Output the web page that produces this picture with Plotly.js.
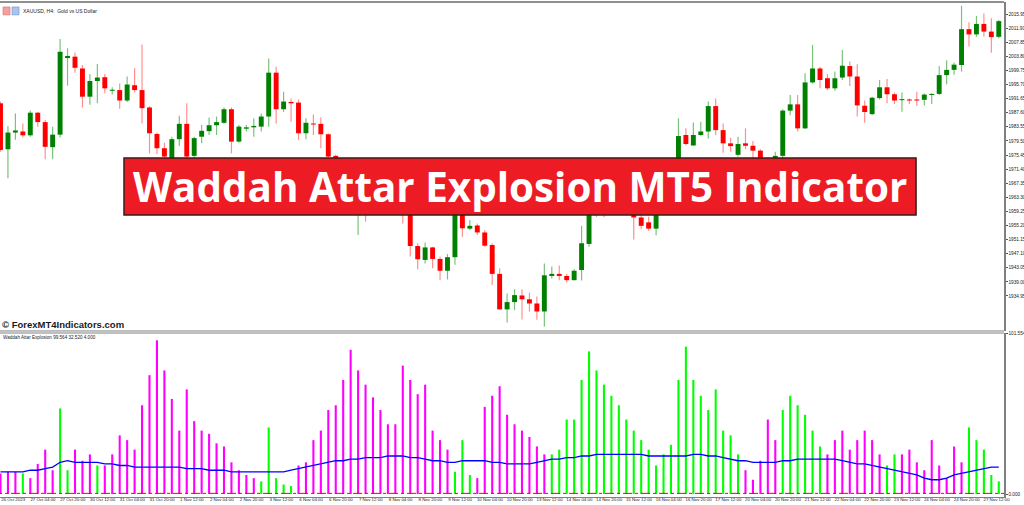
<!DOCTYPE html>
<html>
<head>
<meta charset="utf-8">
<script src="https://cdn.plot.ly/plotly-3.0.1.min.js"></script>
<style>html,body{margin:0;padding:0;background:#fff;}#chart{width:1024px;height:505px;}</style>
</head>
<body>
<div id="chart"></div>
<script>
// ---- Price data (XAUUSD H4) ----
const opens = [1990.3,1977.1,1981.9,1982.2,1981.1,1987.6,1984.9,1977.7,1981.3,2003.3,2003.7,2000.3,1992.2,1996.7,1997.8,1993.9,1994.1,1991.1,1995.5,1994.1,1989.1,1981.5,1977.4,1973.3,1980.0,1984.4,1975.2,1980.7,1982.3,1984.0,1984.7,1988.6,1979.3,1983.0,1983.4,1983.6,1986.5,1999.1,1988.6,1990.7,1990.5,1981.7,1984.5,1984.4,1981.4,1975.2,1971.5,1966.0,1961.5,1964.5,1961.0,1965.5,1968.5,1966.0,1962.5,1960.0,1949.3,1945.3,1948.9,1945.6,1942.2,1946.1,1966.0,1954.3,1955.2,1953.2,1949.6,1941.3,1931.1,1933.2,1935.1,1934.0,1932.8,1930.5,1940.7,1941.3,1940.7,1939.5,1942.4,1949.9,1960.0,1962.5,1960.5,1964.5,1967.0,1962.0,1957.5,1956.1,1954.3,1962.0,1968.0,1972.5,1981.2,1978.2,1981.2,1982.2,1989.5,1982.6,1978.8,1975.5,1978.8,1978.1,1976.7,1972.5,1970.0,1975.2,1988.2,1990.0,1983.1,1996.3,2000.3,1997.5,1994.6,1997.7,2001.0,1998.0,1989.6,1987.2,1991.8,1994.9,1992.9,1991.2,1991.3,1991.4,1991.3,1992.7,1993.0,1998.4,1999.9,2001.3,2011.6,2010.1,2013.1,2010.9,2009.4];
const highs = [1990.8,1983.8,1987.4,1984.5,1988.2,1987.8,1985.5,1983.6,2008.8,2006.1,2004.9,2001.3,1998.7,2001.6,1998.7,1994.9,1996.0,1998.0,2000.4,2007.2,1989.5,1981.9,1979.0,1980.7,1986.7,1990.3,1980.7,1984.1,1986.2,1986.5,1989.1,1989.1,1984.1,1984.1,1986.0,1987.4,2003.2,2000.8,1993.6,1991.7,1991.4,1986.0,1987.1,1986.3,1981.7,1975.5,1972.5,1967.0,1966.0,1966.5,1967.0,1970.0,1970.0,1967.5,1964.0,1961.0,1950.1,1950.3,1949.1,1946.3,1947.0,1967.5,1968.0,1956.8,1955.8,1953.9,1950.1,1942.9,1935.7,1936.9,1936.9,1935.9,1934.8,1944.3,1943.4,1943.7,1941.3,1942.6,1955.1,1961.5,1964.0,1964.0,1966.0,1969.0,1968.0,1963.0,1958.2,1957.7,1963.5,1969.5,1974.0,1986.0,1983.1,1984.8,1985.0,1990.8,1991.7,1984.5,1980.4,1980.7,1983.1,1979.5,1977.1,1973.5,1976.4,1988.6,1992.7,1992.7,1998.9,2007.1,2000.8,1998.7,1999.4,2005.6,2002.3,2001.5,1991.1,1992.2,1997.0,1997.3,1993.4,1993.4,1991.7,1993.6,1993.1,1993.2,2001.0,2002.7,2002.0,2018.3,2013.6,2015.4,2016.1,2014.7,2014.2];
const lows = [1976.4,1968.8,1979.8,1980.5,1980.7,1983.6,1974.2,1974.2,1980.5,1995.4,1999.1,1989.1,1989.9,1990.3,1993.2,1992.8,1988.7,1990.7,1993.4,1984.5,1975.9,1975.7,1973.5,1972.6,1978.0,1974.0,1973.5,1978.8,1981.2,1981.2,1984.4,1975.9,1979.0,1982.2,1980.7,1982.2,1983.6,1984.5,1987.9,1985.0,1979.8,1980.0,1981.2,1977.4,1973.5,1970.0,1964.5,1959.0,1952.5,1956.3,1960.0,1964.5,1964.0,1961.5,1955.8,1946.3,1942.6,1944.3,1942.9,1939.5,1939.7,1943.9,1952.0,1953.9,1952.5,1949.1,1938.1,1931.1,1927.3,1930.9,1928.2,1930.5,1928.1,1926.1,1940.0,1939.5,1938.8,1939.4,1939.4,1949.1,1957.7,1957.6,1959.5,1963.5,1960.5,1951.2,1954.1,1953.7,1952.4,1961.0,1966.5,1971.5,1978.2,1978.0,1981.0,1980.2,1981.2,1976.1,1976.4,1975.0,1977.1,1974.5,1971.0,1968.5,1969.0,1974.4,1986.9,1982.2,1982.9,1996.0,1994.6,1994.1,1993.9,1997.0,1995.3,1986.5,1984.7,1986.9,1991.4,1990.3,1990.1,1987.9,1990.1,1989.5,1989.7,1990.1,1992.7,1995.8,1998.5,1999.4,2006.6,2009.4,2009.4,2004.8,2009.0];
const closes = [1976.9,1981.9,1982.5,1981.1,1987.6,1984.9,1977.8,1981.3,2005.1,2003.9,2000.5,1992.2,1996.7,1997.7,1994.6,1994.2,1991.1,1995.7,1994.1,1988.9,1981.7,1977.4,1975.0,1980.0,1984.4,1975.0,1980.3,1982.4,1984.0,1984.9,1988.6,1979.3,1983.6,1983.4,1983.8,1986.5,1999.1,1988.6,1990.8,1990.3,1981.7,1984.7,1984.2,1981.4,1975.0,1971.5,1966.0,1961.5,1964.5,1961.0,1965.5,1968.5,1966.0,1962.5,1960.0,1949.3,1945.5,1948.9,1945.6,1942.2,1946.1,1966.0,1954.4,1955.1,1953.2,1949.4,1941.3,1931.1,1933.2,1935.2,1934.0,1932.8,1930.5,1940.9,1941.3,1940.7,1939.5,1942.2,1950.1,1960.0,1962.5,1960.5,1964.5,1967.0,1962.0,1957.5,1955.1,1954.3,1962.0,1968.0,1972.5,1980.9,1978.6,1981.2,1982.2,1989.5,1982.6,1978.8,1978.0,1978.6,1978.1,1976.7,1972.5,1970.0,1975.2,1988.2,1990.0,1983.1,1996.3,2000.3,1997.0,1994.6,1997.5,2001.1,1998.0,1989.7,1987.8,1991.9,1994.9,1992.9,1991.1,1991.3,1991.1,1991.1,1992.8,1993.0,1998.4,1999.9,2001.4,2011.6,2010.1,2013.1,2010.9,2009.3,2013.9];

// ---- Waddah Attar Explosion: + = green (up trend), - = magenta (down trend) ----
const trendBars = [-13,-14,-14,13,-10,-19,-28,-15,54,15,-28,-21,-25,18,-18,-25,-37,-34,-28,-56,-75,-97,-78,-60,-40,-66,-46,-40,-38,-32,-30,-20,-15,-12,-10,8,42,10,6,5,-18,-20,-34,-40,-53,-56,-72,-91,-78,-69,-61,-53,-44,-44,-81,-72,-63,-69,-40,-34,-28,14,34,12,-10,-55,-62,-68,-50,-44,-40,-36,-30,-25,25,28,47,47,72,90,78,69,62,56,47,40,34,28,18,25,31,72,93,72,62,53,66,40,37,25,-15,-9,-21,-47,-34,53,62,56,50,40,30,-25,-34,-40,-28,-34,-40,-34,-25,18,25,-25,-28,-20,-15,-34,-18,-10,-30,-20,42,34,28,12,8,18];
const explosionLine = [14,14,14,14,15,15,16,17,20,21,20,20,20,20,19,19,18,18,17,17,17,17,17,17,17,16,16,16,15,15,15,14,14,14,14,14,14,14,14,15,16,17,18,19,20,21,21,22,22,23,23,23,24,24,24,23,23,22,21,21,20,20,21,21,21,21,20,20,19,19,19,19,20,21,22,22,23,23,24,24,25,25,25,25,25,25,25,24,24,24,24,24,24,25,25,24,24,23,22,21,21,20,20,20,20,21,21,22,22,22,22,22,22,21,20,19,19,18,17,16,15,14,13,12,10,9,9,10,12,13,14,15,16,17,17,18];
const deadZone = 0.4;

// ---- Axis labels ----
const timeLabels = ["26 Oct 2023","27 Oct 04:00","27 Oct 20:00","30 Oct 12:00","31 Oct 04:00","31 Oct 20:00","1 Nov 12:00","2 Nov 04:00","2 Nov 20:00","3 Nov 12:00","6 Nov 04:00","6 Nov 20:00","7 Nov 12:00","8 Nov 04:00","8 Nov 20:00","9 Nov 12:00","10 Nov 04:00","10 Nov 20:00","13 Nov 12:00","14 Nov 04:00","14 Nov 20:00","15 Nov 12:00","16 Nov 04:00","16 Nov 20:00","17 Nov 12:00","20 Nov 04:00","20 Nov 20:00","21 Nov 12:00","22 Nov 04:00","22 Nov 20:00","23 Nov 12:00","24 Nov 04:00","24 Nov 20:00","27 Nov 12:00"];
const labelStep = 4;
const priceTicks = [2015.95,2011.90,2007.85,2003.80,1999.75,1995.70,1991.65,1987.60,1983.55,1979.50,1975.45,1971.40,1967.35,1963.30,1959.25,1955.20,1951.15,1947.10,1943.05,1939.00,1934.95];
const indTicks = [101.554, 0];

const idx = opens.map((_, i) => i);
const isUp = opens.map((o, i) => closes[i] >= o);
const bodyBase = opens.map((o, i) => Math.min(o, closes[i]));
const bodyLen = opens.map((o, i) => Math.max(Math.abs(closes[i] - o), 0.3));
const wickLen = highs.map((h, i) => h - lows[i]);

const wicks = {
  type: 'bar', x: idx, base: lows, y: wickLen, width: 0.16,
  marker: {color: isUp.map(u => u ? '#79c279' : '#ff8f8f'), line: {width: 0}},
  xaxis: 'x', yaxis: 'y', hoverinfo: 'skip'
};
const bodies = {
  type: 'bar', x: idx, base: bodyBase, y: bodyLen, width: 0.66,
  marker: {color: isUp.map(u => u ? '#008000' : '#ff0000'), line: {width: 0}},
  xaxis: 'x', yaxis: 'y'
};
const hist = {
  type: 'bar', x: idx, y: trendBars.map(v => Math.abs(v)), width: 0.28,
  marker: {color: trendBars.map(v => v >= 0 ? '#00ff00' : '#ff00ff'), line: {width: 0}},
  xaxis: 'x', yaxis: 'y2'
};
const eLine = {
  type: 'scatter', mode: 'lines', x: idx, y: explosionLine,
  line: {color: '#0000ff', width: 1.3}, xaxis: 'x', yaxis: 'y2'
};
const dz = {
  type: 'scatter', mode: 'lines', x: [idx[0] - 1, idx[idx.length - 1] + 1], y: [deadZone, deadZone],
  line: {color: '#ff0000', width: 1, dash: 'dashdot'}, xaxis: 'x', yaxis: 'y2'
};

const xFont = {family: 'Liberation Sans, Arial, sans-serif', size: 4.4, color: '#222'};
const yFont = {family: 'Liberation Sans, Arial, sans-serif', size: 4.7, color: '#222'};
const layout = {
  width: 1024, height: 505,
  margin: {l: 0, r: 20, t: 2, b: 8},
  paper_bgcolor: '#ffffff', plot_bgcolor: '#ffffff',
  showlegend: false, barmode: 'overlay',
  xaxis: {
    domain: [0, 1], range: [-0.067, 134.7], anchor: 'y2',
    tickvals: timeLabels.map((_, k) => k * labelStep + 1.7), ticktext: timeLabels, tickangle: 0,
    ticks: '', tickfont: xFont, ticklabelstandoff: -2, ticklabeloverflow: 'allow',
    showgrid: false, zeroline: false, showline: true, linecolor: '#808080', linewidth: 1
  },
  yaxis: {
    domain: [0.3354, 1], range: [1924.9, 2019.4], side: 'right', anchor: 'x',
    tickvals: priceTicks, ticktext: priceTicks.map(v => v.toFixed(2)),
    ticks: 'outside', ticklen: 2, tickcolor: '#555', tickfont: yFont, ticklabelstandoff: -1.5, ticklabeloverflow: 'allow',
    showgrid: false, zeroline: false, showline: true, linecolor: '#808080', linewidth: 1.5
  },
  yaxis2: {
    domain: [0, 0.3313], range: [-1.89, 101.6], side: 'right', anchor: 'x',
    tickvals: indTicks, ticktext: indTicks.map(v => v.toFixed(3)),
    ticks: 'outside', ticklen: 2, tickcolor: '#555', tickfont: yFont, ticklabelstandoff: -1.5, ticklabeloverflow: 'allow',
    showgrid: false, zeroline: false, showline: true, linecolor: '#808080', linewidth: 1.5
  },
  shapes: [
    {type: 'line', xref: 'paper', yref: 'paper', x0: 0, x1: 1, y0: 1, y1: 1, line: {color: '#909090', width: 2}},
    {type: 'line', xref: 'paper', yref: 'paper', x0: 0, x1: 1, y0: 0.3354, y1: 0.3354, line: {color: '#808080', width: 1}},
    {type: 'line', xref: 'paper', yref: 'paper', x0: 0, x1: 1, y0: 0.3313, y1: 0.3313, line: {color: '#808080', width: 1}},
    {type: 'rect', xref: 'paper', yref: 'paper', x0: 0.003, x1: 0.010, y0: 0.974, y1: 0.99, fillcolor: '#f4a0a0', line: {color: '#d06060', width: 0.5}},
    {type: 'rect', xref: 'paper', yref: 'paper', x0: 0.012, x1: 0.019, y0: 0.974, y1: 0.99, fillcolor: '#a9c4ee', line: {color: '#6080c0', width: 0.5}},
    {type: 'rect', xref: 'paper', yref: 'paper', x0: 0.1235, x1: 0.9124, y0: 0.5697, y1: 0.6848, fillcolor: '#ed1c24', line: {color: '#3a1a1a', width: 1.5}}
  ],
  annotations: [
    {xref: 'paper', yref: 'paper', x: 0.021, y: 0.982, xanchor: 'left', yanchor: 'middle', showarrow: false,
     text: 'XAUUSD, H4:  Gold vs US Dollar', font: {family: 'Liberation Sans, Arial, sans-serif', size: 5, color: '#222'}},
    {xref: 'paper', yref: 'paper', x: 0.001, y: 0.3223, xanchor: 'left', yanchor: 'middle', showarrow: false,
     text: 'Waddah Attar Explosion 99.564 32.520 4.000', font: {family: 'Liberation Sans, Arial, sans-serif', size: 4.6, color: '#222'}},
    {xref: 'paper', yref: 'paper', x: 0.0, y: 0.3475, xanchor: 'left', yanchor: 'middle', showarrow: false,
     text: '© ForexMT4Indicators.com', font: {family: 'Liberation Sans, Arial, sans-serif', size: 9.5, color: '#1a1a1a', weight: 'bold'}},
    {xref: 'paper', yref: 'paper', x: 0.518, y: 0.6263, xanchor: 'center', yanchor: 'middle', showarrow: false,
     text: '<b>Waddah Attar Explosion MT5 Indicator</b>', font: {family: 'Open Sans, Noto Sans, sans-serif', size: 40.4, color: '#ffffff'}}
  ]
};

Plotly.newPlot('chart', [wicks, bodies, hist, eLine, dz], layout, {staticPlot: true, displayModeBar: false});
</script>
</body>
</html>
